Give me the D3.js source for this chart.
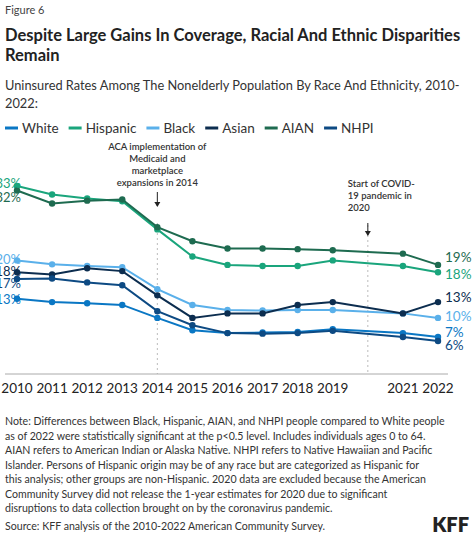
<!DOCTYPE html><html><head><meta charset="utf-8"><script src="https://d3js.org/d3.v7.min.js"></script>
<style>body{margin:0;background:#fff;font-family:"Source Sans Pro","Lato","Noto Sans",sans-serif}</style></head><body><svg id="c" width="474" height="539"></svg>
<script>
const years=[2010,2011,2012,2013,2014,2015,2016,2017,2018,2019,2021,2022];
const seriesNames=["White","Hispanic","Black","Asian","AIAN","NHPI"];
const colors=["#0a77c4","#1aa57c","#5ab0ea","#0c2d4f","#1e6b50","#0d4a83"];
const white=[13,12.4,12.2,11.9,9.6,7.4,6.9,7.0,7.1,7.6,6.9,6.2];
const hispanic=[33,31.5,30.8,30.3,25.3,20.5,19,18.8,18.8,19.8,18.8,17.7];
const black=[19.8,19.1,18.8,18.6,14.7,11.9,11,10.9,11,11,10.4,9.6];
const asian=[17.7,17.3,18.4,17.9,13.6,9.6,10.4,10.4,11.9,12.4,10.4,12.4];
const aian=[32.2,29.9,30.4,30.6,25.7,23.2,21.9,21.9,21.8,21.6,21,19];
const nhpi=[16.5,16.6,15.9,15.4,10.8,8.3,6.9,6.8,6.9,7.3,6.2,5.5];
const startLabels=["13%","33%","20%","18%","32%","17%"];
const endLabels=["7%","18%","10%","13%","19%","6%"];
const all=[white,hispanic,black,asian,aian,nhpi];
const svg=d3.select("#c");
const x=d3.scaleLinear().domain([2010,2022]).range([17,438]);
const y=d3.scaleLinear().domain([0,33]).range([372,186]);
const t=(s,xx,yy,sz,o={})=>svg.append("text").attr("x",xx).attr("y",yy).attr("font-size",sz).attr("fill",o.fill||"#222").attr("font-weight",o.w||400).attr("text-anchor",o.a||"start").text(s);
t("Figure 6",5,14,11,{fill:"#444"});
t("Despite Large Gains In Coverage, Racial And Ethnic Disparities",5,41,16.5,{w:700});
t("Remain",5,61,16.5,{w:700});
t("Uninsured Rates Among The Nonelderly Population By Race And Ethnicity, 2010-",5,90,12.8,{fill:"#333"});
t("2022:",5,108,12.8,{fill:"#333"});
let lx=5;
seriesNames.forEach((n,i)=>{svg.append("line").attr("x1",lx).attr("x2",lx+13).attr("y1",128).attr("y2",128).attr("stroke",colors[i]).attr("stroke-width",3);
 const tx=t(n,lx+17,133,13.5,{fill:"#333"});lx+=17+tx.node().getComputedTextLength()+10;});
[[2014,"ACA implementation of|Medicaid and|marketplace|expansions in 2014",150,228],[2020,"Start of COVID-|19 pandemic in|2020",191,230]].forEach(([yr,txt,ty,ay])=>{
 const xx=x(yr);
 svg.append("line").attr("x1",xx).attr("x2",xx).attr("y1",ay-5).attr("y2",374).attr("stroke","#bbb").attr("stroke-dasharray","2,3");
 const lines=txt.split("|");
 lines.forEach((l,i)=>{if(yr==2014)t(l,xx,ty+i*12,9.5,{a:"middle",fill:"#333",w:600});else t(l,xx-20,ty-4+i*12,9.5,{fill:"#333",w:600});});
 const a0=yr==2014?ty+lines.length*12-6:ty+lines.length*12-4, a1=yr==2014?206:a0+12;
 svg.append("line").attr("x1",xx).attr("x2",xx).attr("y1",a0).attr("y2",a1).attr("stroke","#222");
 svg.append("path").attr("d",`M${xx-3},${a1-4}L${xx},${a1+1}L${xx+3},${a1-4}Z`).attr("fill","#222");
});
svg.append("line").attr("x1",5).attr("x2",448).attr("y1",374).attr("y2",374).attr("stroke","#aaa");
years.forEach(yr=>t(yr,x(yr),393,13.5,{a:"middle",fill:"#222"}));
const line=d3.line().x((d,i)=>x(years[i])).y(d=>y(d));
all.forEach((s,k)=>{
 svg.append("path").datum(s).attr("d",line).attr("fill","none").attr("stroke",colors[k]).attr("stroke-width",2);
 svg.selectAll(null).data(s).enter().append("circle").attr("cx",(d,i)=>x(years[i])).attr("cy",d=>y(d)).attr("r",3.2).attr("fill",colors[k]);
});
const startY=[304,188,264,276,202,288];
all.forEach((s,k)=>t(startLabels[k],21,startY[k],13,{a:"end",fill:colors[k]}));
const endY=[337,279,321,302,262,350];
all.forEach((s,k)=>t(endLabels[k],445,endY[k],13.5,{fill:colors[k]}));
const notes=["Note: Differences between Black, Hispanic, AIAN, and NHPI people compared to White people","as of 2022 were statistically significant at the p<0.5 level. Includes individuals ages 0 to 64.","AIAN refers to American Indian or Alaska Native. NHPI refers to Native Hawaiian and Pacific","Islander. Persons of Hispanic origin may be of any race but are categorized as Hispanic for","this analysis; other groups are non-Hispanic. 2020 data are excluded because the American","Community Survey did not release the 1-year estimates for 2020 due to significant","disruptions to data collection brought on by the coronavirus pandemic."];
notes.forEach((n,i)=>t(n,5,425+i*14.5,10.6,{fill:"#333"}));
t("Source: KFF analysis of the 2010-2022 American Community Survey.",5,530,10.6,{fill:"#333"});
t("KFF",469,532,20,{a:"end",w:800,fill:"#222"});
</script></body></html>
